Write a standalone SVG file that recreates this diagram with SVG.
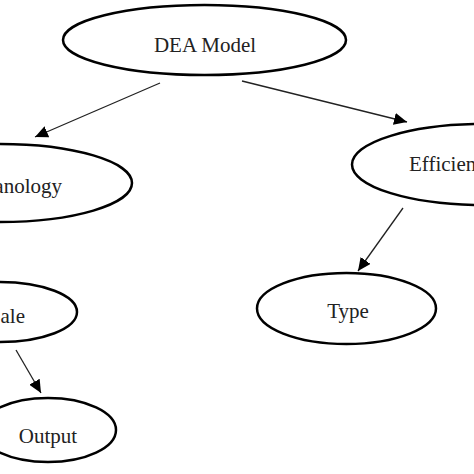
<svg xmlns="http://www.w3.org/2000/svg" width="474" height="474" viewBox="0 0 474 474">
<style>
.node ellipse{fill:#fff;stroke:#000;stroke-width:2.5}
.node text{font-family:"Liberation Serif",serif;font-size:21px;fill:#222}
.conn line{stroke:#222;stroke-width:1.3}
</style>
<defs>
<marker id="ah" markerUnits="userSpaceOnUse" markerWidth="14" markerHeight="12" refX="13" refY="6" orient="auto">
<path d="M0,0 L13,6 L0,12 Z" fill="#000"/>
</marker>
</defs>
<rect width="474" height="474" fill="#fff"/>
<g id="connectors" class="conn">
<line x1="160" y1="83" x2="35" y2="137" marker-end="url(#ah)"/>
<line x1="242" y1="81" x2="407" y2="122" marker-end="url(#ah)"/>
<line x1="403" y1="208" x2="358" y2="271" marker-end="url(#ah)"/>
<line x1="16" y1="350" x2="41" y2="393" marker-end="url(#ah)"/>
</g>
<g id="dea" class="node">
<ellipse cx="204.5" cy="40" rx="141.5" ry="35"/>
<text x="205" y="52" text-anchor="middle">DEA Model</text>
</g>
<g id="technology" class="node">
<ellipse cx="0" cy="183" rx="132" ry="39"/>
<text x="62" y="193" text-anchor="end">anology</text>
</g>
<g id="efficiency" class="node">
<ellipse cx="484" cy="164.5" rx="132" ry="40.5"/>
<text x="409" y="171">Efficien</text>
</g>
<g id="type" class="node">
<ellipse cx="346.5" cy="308.5" rx="89.5" ry="35.5"/>
<text x="348" y="318" text-anchor="middle">Type</text>
</g>
<g id="scale" class="node">
<ellipse cx="0" cy="312" rx="77" ry="30"/>
<text x="25" y="323" text-anchor="end">ale</text>
</g>
<g id="output" class="node">
<ellipse cx="48" cy="430" rx="68" ry="32"/>
<text x="48" y="443" text-anchor="middle">Output</text>
</g>
</svg>
